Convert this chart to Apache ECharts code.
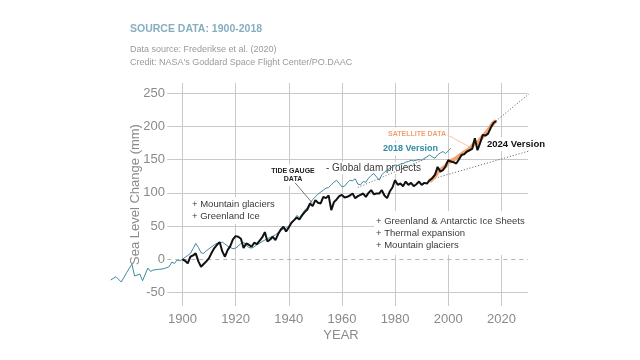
<!DOCTYPE html>
<html>
<head>
<meta charset="utf-8">
<script src="https://cdn.jsdelivr.net/npm/echarts@6/dist/echarts.min.js"></script>
<style>
html,body{margin:0;padding:0;background:#fff;}
#c{width:640px;height:360px;}
</style>
</head>
<body>
<div id="c"></div>
<script>
// ---- data ----
const xTicks = [1900, 1920, 1940, 1960, 1980, 2000, 2020];
const yTicks = [-50, 0, 50, 100, 150, 200, 250];
const yGridTicks = [-50, 50, 100, 150, 200, 250];
const gridSpan = [1894.3, 2030];

// 2018 version (teal)
const v2018Years = [1873,1875,1877,1879,1881,1882,1884,1885,1887,1888,1889,1891,1893,1895,1896,1897,1898,1899,
  1900,1901,1902,1903,1904,1905,1906,1907,1908,1909,1910,1911,1912,1913,1914,1915,1916,1917,1918,1919,
  1920,1921,1922,1923,1924,1925,1926,1927,1928,1929,1930,1931,1932,1933,1934,1935,1936,1937,1938,1939,
  1940,1941,1942,1943,1944,1945,1946,1947,1948,1949,1950,1951,1952,1953,1954,1955,1956,1957,1958,1959,
  1960,1961,1962,1963,1964,1965,1966,1967,1968,1969,1970,1971,1972,1973,1974,1975,1976,1977,1978,1979,
  1980,1981,1982,1983,1984,1985,1986,1987,1988,1989,1990,1991,1992,1993,1994,1995,1996,1997,1998,1999,2000,2001];
const v2018Values = [-31,-26,-34,-20,-7,-25,-22,-32,-13,-18,-16,-15,-14,-11,-4,-6,-1,-2,
  0,3,6,9,16,24,18,10,9,13,16,19,22,24,25,26,23,20,18,16,
  17,20,24,26,21,18,17,19,22,24,27,29,31,33,35,37,40,43,46,47,
  50,54,58,66,63,68,74,78,84,90,94,98,101,104,107,108,112,116,119,114,
  109,110,115,119,118,121,113,112,117,116,122,126,129,124,119,127,131,134,137,139,
  142,141,143,144,146,147,149,148,149,150,149,152,154,157,154,152,157,160,162,159,163,167];

// 2024 version tide gauge (black)
const tideYears = [];
for (let y = 1900; y <= 2018; y++) tideYears.push(y);
const tideValues = [0,-2,-6,4,6,9,-3,-11,-7,-3,
  2,10,17,22,26,12,4,14,20,30,
  35,34,31,17,24,22,19,25,23,28,
  33,41,27,30,34,29,38,45,49,42,
  48,55,59,63,60,66,71,75,84,80,
  89,85,84,94,92,96,74,86,90,95,
  97,93,94,96,99,92,95,97,99,94,
  100,104,98,99,99,104,96,92,102,108,
  119,112,114,110,117,112,115,110,113,117,
  112,115,114,119,122,127,139,132,134,140,
  149,147,146,144,150,157,158,162,164,166,
  182,164,175,187,186,189,198,205,208];

// satellite (orange)
const satYears = [1993,1994,1995,1996,1997,1998,1999,2000,2001,2002,2003,2004,2005,2006,2007,2008,2009,2010,2011,2012,2013,2014,2015,2016,2017,2018];
const satValues = [117,121,125,131,134,137,140,146,148,150,152,155,158,161,163,166,170,176,174,180,185,189,194,200,205,208];

// uncertainty band around 2018 version
const bandYears = [1936,1940,1944,1948,1952,1956,1960,1964];
const bandLow  = [33,43,57,74,88,99,101,106];
const bandHigh = [42,53,67,88,103,114,115,121];

// dotted trend lines
const trendHighYears = [2018, 2030.5];
const trendHighValues = [208, 249];
const trendLowYears = [1995, 2030.5];
const trendLowValues = [122, 163];
const damYears = [1966, 1992];
const damValues = [108, 152];

// leader lines of the labels
const tideLeaderYears = [1942.4, 1948.8];
const tideLeaderValues = [115, 85];
const satLeaderYears = [1999.7, 2008.4];
const satLeaderValues = [187, 168];

const zip = (a, b) => a.map((v, i) => [v, b[i]]);

const FONT = 'Liberation Sans, Arial, sans-serif';
const chart = echarts.init(document.getElementById('c'), null, {renderer: 'canvas'});

function txt(x, y, text, opts) {
  return {
    type: 'text', x: x, y: y, z: 1,
    style: Object.assign({
      text: text, fill: '#333', fontFamily: FONT, fontSize: 10,
      verticalAlign: 'middle', align: 'left'
    }, opts || {})
  };
}

const plain = v => String(v);

chart.setOption({
  animation: false,
  backgroundColor: '#fff',
  grid: {left: 108, right: 112, top: 83, bottom: 54},
  xAxis: {
    type: 'value', min: 1872, max: 2030,
    axisLine: {show: false},
    axisTick: {show: false, customValues: xTicks},
    axisLabel: {customValues: xTicks, formatter: plain, color: '#8a8a8a', fontSize: 13, fontFamily: FONT, margin: 7},
    splitLine: {show: true, lineStyle: {color: '#c9c9c9', width: 1}}
  },
  yAxis: {
    type: 'value', min: -70, max: 265, offset: -61,
    name: 'Sea Level Change (mm)', nameLocation: 'middle', nameGap: 27, nameMoveOverlap: false,
    nameTextStyle: {color: '#8a8a8a', fontSize: 13, fontFamily: FONT},
    axisLine: {show: false},
    axisTick: {show: false, customValues: yGridTicks},
    axisLabel: {customValues: yTicks, formatter: plain, color: '#8a8a8a', fontSize: 13, fontFamily: FONT, margin: 4},
    splitLine: {show: false}
  },
  series: [
    {type: 'line', name: 'grid', data: [], z: 0, silent: true,
      markLine: {symbol: 'none', silent: true, label: {show: false}, z: 0,
        lineStyle: {type: 'solid', color: '#c9c9c9', width: 1},
        data: yGridTicks.map(v => [{coord: [gridSpan[0], v]}, {coord: [gridSpan[1], v]}])
          .concat([[{coord: [gridSpan[0], 0], lineStyle: {type: [4, 4], color: '#b5b5b5'}}, {coord: [gridSpan[1], 0]}]])}},
    {type: 'line', name: 'bandLow', data: zip(bandYears, bandLow), stack: 'band', symbol: 'none',
      lineStyle: {width: 0}, areaStyle: {opacity: 0}, z: 1, silent: true},
    {type: 'line', name: 'band', data: bandYears.map((y, i) => [y, bandHigh[i] - bandLow[i]]), stack: 'band', symbol: 'none',
      lineStyle: {width: 0}, areaStyle: {color: '#d6eef3', opacity: 1}, z: 1, silent: true},
    {type: 'line', name: '2018 Version', data: zip(v2018Years, v2018Values), symbol: 'none',
      lineStyle: {color: '#3f8c9c', width: 1}, z: 2},
    {type: 'line', name: 'dam', data: zip(damYears, damValues), symbol: 'none', clip: false,
      lineStyle: {color: '#666', width: 1, type: [1, 2]}, z: 2},
    {type: 'line', name: 'trendHigh', data: zip(trendHighYears, trendHighValues), symbol: 'none', clip: false,
      lineStyle: {color: '#555', width: 1, type: [1, 2]}, z: 2},
    {type: 'line', name: 'trendLow', data: zip(trendLowYears, trendLowValues), symbol: 'none', clip: false,
      lineStyle: {color: '#555', width: 1, type: [1, 2]}, z: 2},
    {type: 'line', name: 'satellite', data: zip(satYears, satValues), symbol: 'none',
      lineStyle: {color: '#f2a472', width: 4}, z: 3},
    {type: 'line', name: 'tide', data: zip(tideYears, tideValues), symbol: 'none',
      lineStyle: {color: '#111', width: 2}, z: 4},
    {type: 'line', name: 'tideLeader', data: zip(tideLeaderYears, tideLeaderValues), symbol: 'none',
      lineStyle: {color: '#777', width: 1}, z: 2},
    {type: 'line', name: 'satLeader', data: zip(satLeaderYears, satLeaderValues), symbol: 'none',
      lineStyle: {color: '#f6c8a8', width: 1}, z: 2}
  ],
  graphic: [
    txt(130, 29, 'SOURCE DATA: 1900-2018', {fill: '#86aebe', fontWeight: 'bold', fontSize: 10.5}),
    txt(130, 50, 'Data source: Frederikse et al. (2020)', {fill: '#9a9a9a', fontSize: 9}),
    txt(130, 63, "Credit: NASA's Goddard Space Flight Center/PO.DAAC", {fill: '#9a9a9a', fontSize: 9}),
    txt(190, 210.5, '+ Mountain glaciers\n+ Greenland Ice', {fontSize: 9.5, lineHeight: 11.5, fill: '#3a3a3a',
      backgroundColor: '#fff', padding: [2, 3, 2, 2]}),
    txt(374, 233, '+ Greenland & Antarctic Ice Sheets\n+ Thermal expansion\n+ Mountain glaciers', {fontSize: 9.5, lineHeight: 12, fill: '#3a3a3a',
      backgroundColor: '#fff', padding: [4, 4, 4, 2]}),
    txt(325, 168, '- Global dam projects', {fontSize: 10, fill: '#3a3a3a', backgroundColor: '#fff', padding: [1, 2, 1, 1]}),
    txt(293, 175, 'TIDE GAUGE\nDATA', {fontSize: 7, fontWeight: 'bold', fill: '#222', align: 'center', lineHeight: 8.6,
      backgroundColor: '#fff', padding: [2, 3, 2, 3]}),
    txt(386, 134, 'SATELLITE DATA', {fontSize: 7, fontWeight: 'bold', fill: '#f0a070', backgroundColor: '#fff', padding: [3, 2, 3, 2]}),
    txt(381, 149, '2018 Version', {fontSize: 9, fontWeight: 'bold', fill: '#2f8aa6', backgroundColor: '#fff', padding: [2, 2, 2, 2]}),
    txt(485, 144, '2024 Version', {fontSize: 9.5, fontWeight: 'bold', fill: '#111', backgroundColor: '#fff', padding: [2, 2, 2, 2]}),
    txt(341, 335, 'YEAR', {fontSize: 13, fill: '#8a8a8a', align: 'center'})
  ]
});
</script>
</body>
</html>
